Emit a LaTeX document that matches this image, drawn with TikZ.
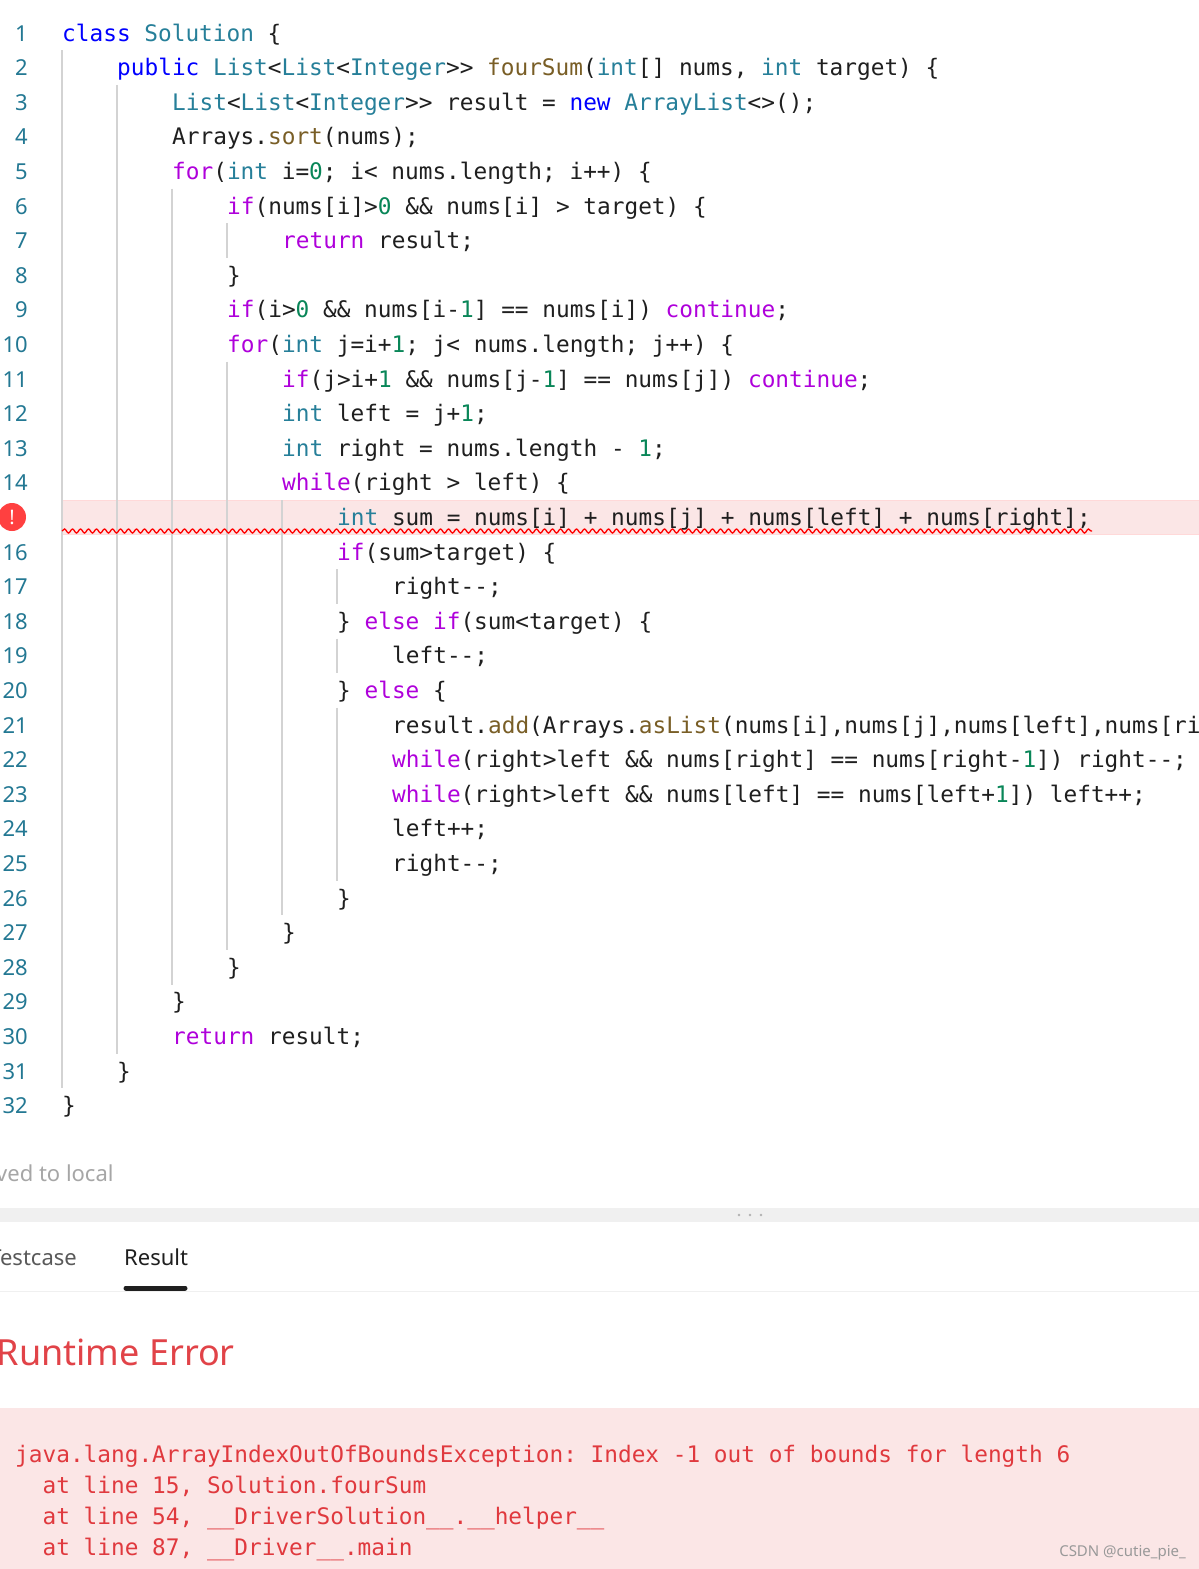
\documentclass[tikz,border=0pt]{standalone}
\usepackage{fontspec}
\setmainfont{Noto Sans}
\setmonofont{DejaVu Sans Mono}
\usetikzlibrary{decorations.pathmorphing}
\definecolor{kwc}{HTML}{0000FF}
\definecolor{tyc}{HTML}{267F99}
\definecolor{fnc}{HTML}{795E26}
\definecolor{ctc}{HTML}{AF00DB}
\definecolor{nmc}{HTML}{098658}
\definecolor{lnc}{HTML}{237893}
\definecolor{guide}{HTML}{D3D3D3}
\definecolor{errbg}{HTML}{FBE6E6}
\definecolor{errfg}{HTML}{E0393E}
\newcommand{\kw}[1]{\textcolor{kwc}{#1}}
\newcommand{\ty}[1]{\textcolor{tyc}{#1}}
\newcommand{\fn}[1]{\textcolor{fnc}{#1}}
\newcommand{\ct}[1]{\textcolor{ctc}{#1}}
\newcommand{\nm}[1]{\textcolor{nmc}{#1}}
\newcommand{\codeln}[3]{\node[code] (c#1) at ({62+55*#2},{33+34.6*(#1-1)+8}) {#3};}
\tikzset{
 code/.style={anchor=base west,inner sep=0,font=\ttfamily\fontsize{22.76}{27}\selectfont,text=black!88},
 lnum/.style={anchor=base east,inner sep=0,font=\fontsize{22}{26}\selectfont,text=lnc},
 gl/.style={draw=guide,line width=1.2pt},
 errt/.style={anchor=base west,inner sep=0,font=\ttfamily\fontsize{22.76}{27}\selectfont,text=errfg}
}
\begin{document}
\begin{tikzpicture}[x=1pt,y=-1pt]
\useasboundingbox (0,0) rectangle (1199,1569);
\fill[white] (0,0) rectangle (1199,1569);
\fill[errbg,draw=red!15] (62,500) rectangle (1205,534);
\foreach \x/\a/\b in {62/2/31,117/3/30,172/6/28,227/7/7,227/11/27,282/15/26,337/17/17,337/19/19,337/21/25}
  \draw[gl] (\x,{33+34.6*(\a-1)-17.3}) -- (\x,{33+34.6*(\b-1)+17.3});
\foreach \n in {1,...,14,16,17,18,19,20,21,22,23,24,25,26,27,28,29,30,31,32}
  \node[lnum] (n\n) at (28,{33+34.6*(\n-1)+8}) {\n};
\fill[red!75!white] (12,517) circle (14);
\node[text=white,font=\bfseries\fontsize{20}{20}\selectfont] (bang) at (12,517) {!};
\codeln{1}{0}{\kw{class} \ty{Solution} \{}
\codeln{2}{1}{\kw{public} \ty{List}<\ty{List}<\ty{Integer}>> \fn{fourSum}(\ty{int}[] nums, \ty{int} target) \{}
\codeln{3}{2}{\ty{List}<\ty{List}<\ty{Integer}>> result = \kw{new} \ty{ArrayList}<>();}
\codeln{4}{2}{Arrays.\fn{sort}(nums);}
\codeln{5}{2}{\ct{for}(\ty{int} i=\nm{0}; i< nums.length; i++) \{}
\codeln{6}{3}{\ct{if}(nums[i]>\nm{0} \&\& nums[i] > target) \{}
\codeln{7}{4}{\ct{return} result;}
\codeln{8}{3}{\}}
\codeln{9}{3}{\ct{if}(i>\nm{0} \&\& nums[i-\nm{1}] == nums[i]) \ct{continue};}
\codeln{10}{3}{\ct{for}(\ty{int} j=i+\nm{1}; j< nums.length; j++) \{}
\codeln{11}{4}{\ct{if}(j>i+\nm{1} \&\& nums[j-\nm{1}] == nums[j]) \ct{continue};}
\codeln{12}{4}{\ty{int} left = j+\nm{1};}
\codeln{13}{4}{\ty{int} right = nums.length - \nm{1};}
\codeln{14}{4}{\ct{while}(right > left) \{}
\codeln{15}{5}{\ty{int} sum = nums[i] + nums[j] + nums[left] + nums[right];}
\codeln{16}{5}{\ct{if}(sum>target) \{}
\codeln{17}{6}{right-{}-;}
\codeln{18}{5}{\} \ct{else} \ct{if}(sum<target) \{}
\codeln{19}{6}{left-{}-;}
\codeln{20}{5}{\} \ct{else} \{}
\codeln{21}{6}{result.\fn{add}(Arrays.\fn{asList}(nums[i],nums[j],nums[left],nums[right]));}
\codeln{22}{6}{\ct{while}(right>left \&\& nums[right] == nums[right-\nm{1}]) right-{}-;}
\codeln{23}{6}{\ct{while}(right>left \&\& nums[left] == nums[left+\nm{1}]) left++;}
\codeln{24}{6}{left++;}
\codeln{25}{6}{right-{}-;}
\codeln{26}{5}{\}}
\codeln{27}{4}{\}}
\codeln{28}{3}{\}}
\codeln{29}{2}{\}}
\codeln{30}{2}{\ct{return} result;}
\codeln{31}{1}{\}}
\codeln{32}{0}{\}}
\draw[red,line width=1.3pt,decorate,decoration={snake,segment length=8,amplitude=2}] (62,531) -- (1092,531);
\node[anchor=base west,inner sep=0,text=black!35,font=\fontsize{22}{26}\selectfont] (saved) at (-4,1181) {ved to local};
\fill[black!6] (0,1208) rectangle (1199,1222);
\foreach \x in {739,750,761} \fill[black!30] (\x,1215) circle (1.3);
\node[anchor=base east,inner sep=0,text=black!65,font=\fontsize{22}{26}\selectfont] (tc) at (77,1265) {Testcase};
\node[anchor=base west,inner sep=0,text=black!88,font=\fontsize{22}{26}\selectfont] (res) at (124,1265) {Result};
\draw[black!6,line width=1pt] (0,1291) -- (1199,1291);
\draw[black!88,line width=5pt,line cap=round] (126,1288) -- (185,1288);
\node[anchor=base east,inner sep=0,text=errfg!95!white,font=\fontsize{36}{40}\selectfont] (rt) at (235,1365) {Runtime Error};
\fill[errbg] (0,1408) rectangle (1199,1569);
\node[errt] (e1) at (15,1462) {java.lang.ArrayIndexOutOfBoundsException: Index -1 out of bounds for length 6};
\node[errt] (e2) at (42.4,1493) {at line 15, Solution.fourSum};
\node[errt] (e3) at (42.4,1524) {at line 54, \_\_DriverSolution\_\_.\_\_helper\_\_};
\node[errt] (e4) at (42.4,1555) {at line 87, \_\_Driver\_\_.main};
\node[anchor=base east,inner sep=0,text=black!40,font=\fontsize{15}{18}\selectfont] (wm) at (1186,1556) {CSDN @cutie\_pie\_};
\end{tikzpicture}
\end{document}
